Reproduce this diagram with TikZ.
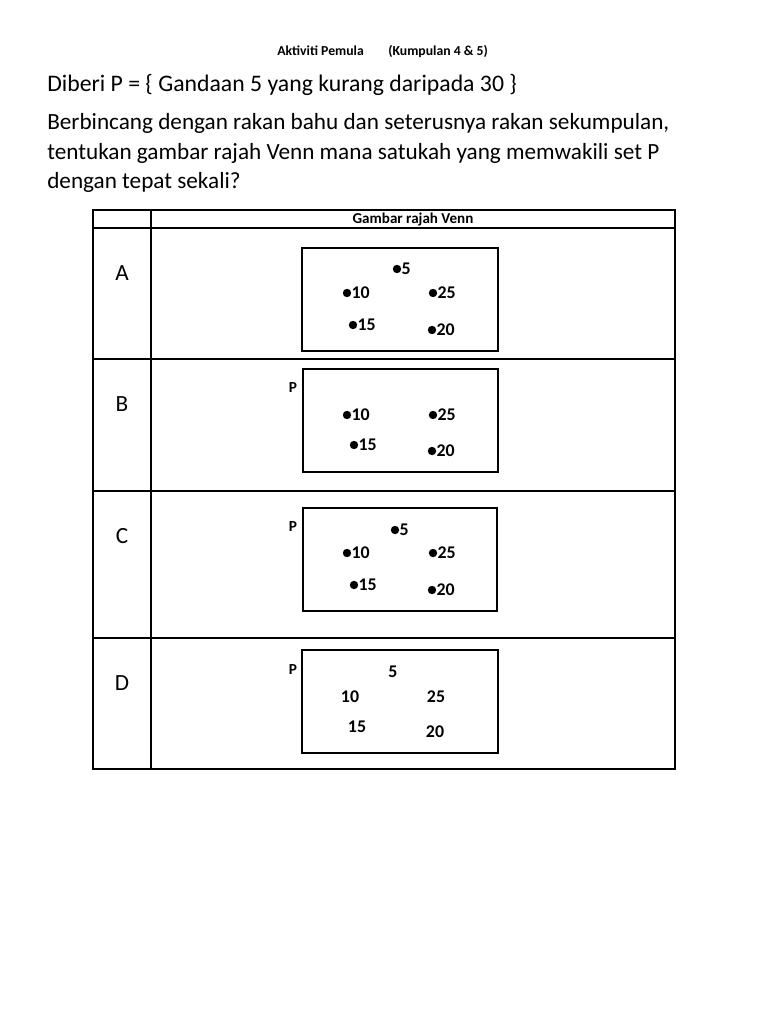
\documentclass[tikz,border=0pt]{standalone}
\usepackage{fontspec}
\setmainfont{Carlito}
\begin{document}
\begin{tikzpicture}[x=0.75pt,y=-0.75pt,
  hdr/.style={anchor=base west,inner sep=0pt,font=\fontsize{10.3}{12}\selectfont\bfseries},
  body/.style={anchor=base west,inner sep=0pt,font=\fontsize{17.4}{20}\selectfont},
  rowlab/.style={anchor=base,inner sep=0pt,font=\fontsize{17.4}{20}\selectfont},
  tline/.style={line width=0.8pt},
  venn/.style={draw,line width=1.1pt,inner sep=0pt},
  vennshade/.style={line width=1.6pt},
  dot/.style={circle,fill=black,inner sep=0pt,minimum size=6.3pt},
  num/.style={anchor=base west,inner sep=0pt,font=\fontsize{13.4}{15}\selectfont\bfseries},
  numc/.style={anchor=center,inner sep=0pt,font=\fontsize{13.4}{15}\selectfont\bfseries},
  plab/.style={anchor=center,inner sep=0pt,font=\fontsize{11.5}{13}\selectfont\bfseries}
]
\useasboundingbox[fill=white] (0,0) rectangle (768,1024);

% header
\node[hdr] (h1) at (277,56) {Aktiviti Pemula};
\node[hdr] (h2) at (388,56) {(Kumpulan 4 \& 5)};

% text
\node[body,font=\fontsize{17.8}{20}\selectfont] (t1) at (47,91.7) {Diberi P = \{ Gandaan 5 yang kurang daripada 30 \}};
\node[body] (t2) at (47,129) {Berbincang dengan rakan bahu dan seterusnya rakan sekumpulan,};
\node[body] (t3) at (47,159) {tentukan gambar rajah Venn mana satukah yang memwakili set P};
\node[body] (t4) at (47,188) {dengan tepat sekali?};

% table
\draw[tline] (93,210) rectangle (675,769);
\draw[tline] (151,210) -- (151,769);
\foreach \yy in {228,359,491,638} \draw[tline] (93,\yy) -- (675,\yy);
\node[anchor=center,inner sep=0pt,font=\fontsize{11.3}{13}\selectfont\bfseries] (gv) at (413,219.5) {Gambar rajah Venn};

\node[rowlab] (la) at (122,280) {A};
\node[rowlab] (lb) at (122,411) {B};
\node[rowlab] (lc) at (122,543) {C};
\node[rowlab] (ld) at (122,690) {D};

% boxes
\draw[venn] (302,248) rectangle (498,351);
\draw[venn] (303,369) rectangle (498,472);
\draw[venn] (303,508) rectangle (497,611);
\draw[venn] (302,650) rectangle (498,753);
\draw[vennshade] (498,248) -- (498,351) -- (302,351);
\draw[vennshade] (498,369) -- (498,472) -- (303,472);
\draw[vennshade] (497,508) -- (497,611) -- (303,611);
\draw[vennshade] (498,650) -- (498,753) -- (302,753);

% P labels
\node[plab] (pb) at (293,388) {P};
\node[plab] (pc) at (293,527) {P};
\node[plab] (pd) at (293,670) {P};

% A elements
\foreach \nm/\xx/\yy in {5/397/269,10/347/293,25/433/293,15/353/325,20/432/330}{
  \node[dot] (ad\nm) at (\xx,\yy) {};
  \node[num] (at\nm) at ([xshift=3.2pt,yshift=-4.2pt]ad\nm.center) {\nm};
}
% B elements
\foreach \nm/\xx/\yy in {10/347/415,25/433/415,15/354/445,20/432/451}{
  \node[dot] (bd\nm) at (\xx,\yy) {};
  \node[num] (bt\nm) at ([xshift=3.2pt,yshift=-4.2pt]bd\nm.center) {\nm};
}
% C elements
\foreach \nm/\xx/\yy in {5/395/530,10/347/553,25/433/553,15/354/585,20/432/590}{
  \node[dot] (cd\nm) at (\xx,\yy) {};
  \node[num] (ct\nm) at ([xshift=3.2pt,yshift=-4.2pt]cd\nm.center) {\nm};
}
% D elements
\foreach \nm/\xx/\yy in {5/393/672,10/350/697,25/436/697,15/357/727,20/435/732}{
  \node[numc] (dt\nm) at (\xx,\yy) {\nm};
}
\end{tikzpicture}
\end{document}
